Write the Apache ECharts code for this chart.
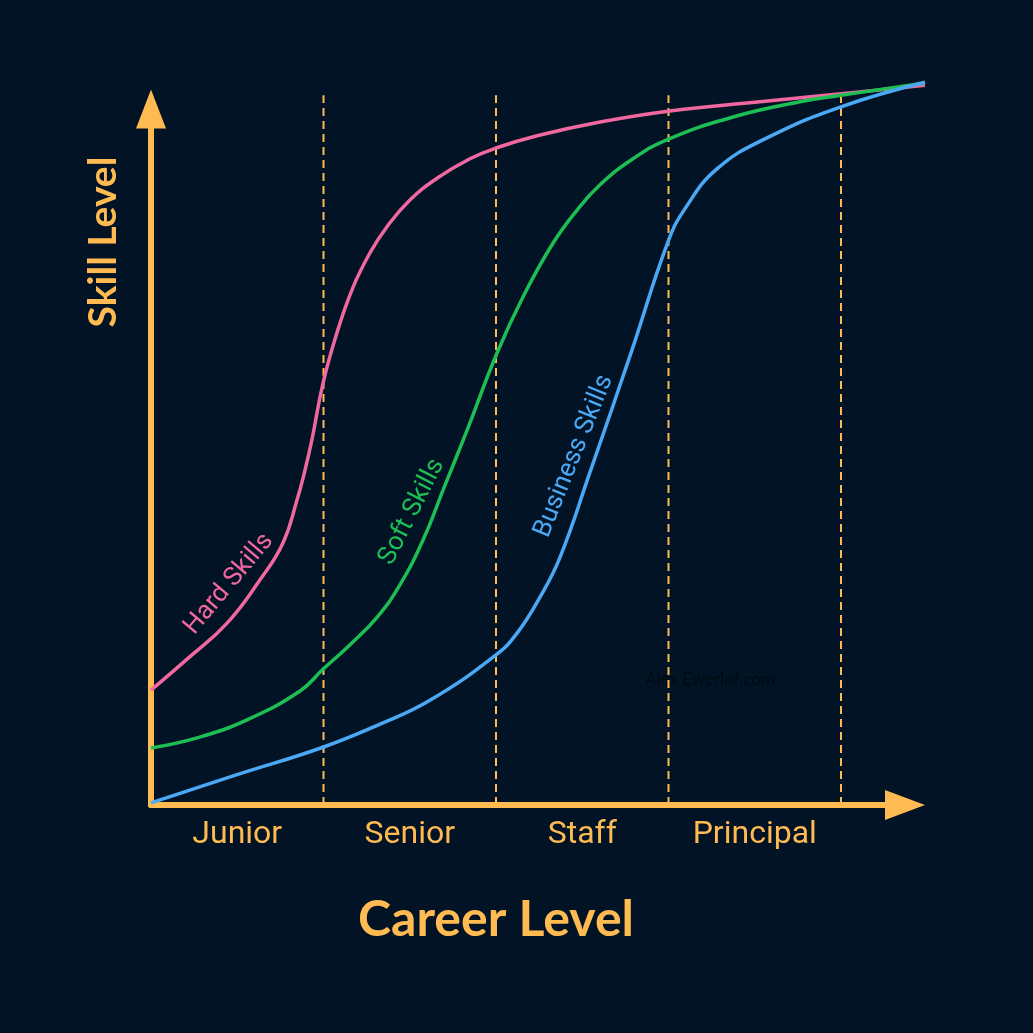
<!DOCTYPE html>
<html>
<head>
<meta charset="utf-8">
<script src="https://cdn.jsdelivr.net/npm/echarts@6/dist/echarts.min.js"></script>
<style>
  html, body { margin: 0; padding: 0; background: #011324; }
  #chart { width: 1033px; height: 1033px; }
</style>
</head>
<body>
<div id="chart"></div>
<script>
// ---- data ----
const categories = ['Junior', 'Senior', 'Staff', 'Principal'];
const boundaries = [1, 2, 3, 4];

const hardX = [0, 0.214, 0.441, 0.632, 0.765, 0.846, 0.893, 0.933, 0.997, 1.078, 1.171, 1.270, 1.368, 1.501, 1.658, 1.849, 2.0, 2.238, 2.603, 2.997, 3.530, 4.0, 4.487];
const hardY = [15.9, 20.3, 25.2, 31.2, 36.3, 42.2, 46.4, 50.6, 58.4, 65.4, 71.7, 76.5, 80.1, 83.8, 86.8, 89.5, 91.0, 92.7, 94.6, 96.1, 97.4, 98.5, 99.7];

const softX = [0, 0.267, 0.557, 0.864, 0.997, 1.154, 1.310, 1.443, 1.577, 1.693, 1.832, 2.006, 2.157, 2.330, 2.470, 2.603, 2.794, 2.997, 3.374, 3.762, 4.0, 4.487];
const softY = [7.9, 9.3, 11.8, 15.8, 18.8, 22.2, 26.0, 30.5, 36.7, 43.6, 51.9, 62.6, 70.4, 77.8, 82.4, 85.9, 89.5, 92.2, 95.3, 97.4, 98.3, 100.0];

const bizX = [0, 0.499, 0.997, 1.328, 1.617, 2.0, 2.122, 2.255, 2.371, 2.545, 2.788, 2.997, 3.096, 3.281, 3.571, 4.0, 4.487];
const bizY = [0.3, 4.2, 8.0, 11.2, 14.5, 20.8, 23.8, 28.8, 34.3, 46.1, 63.0, 78.0, 82.6, 88.1, 92.4, 96.7, 100.1];

// label anchors along curves: [x, y, angle]
const hardLabel = [0.452, 30.6, 50];
const softLabel = [1.513, 40.6, 63];
const bizLabel = [2.452, 48.3, 68];

const dashTop = 98.3;

// ---- styles ----
const ORANGE = '#FFBB52';
const PINK = '#F0689F';
const GREEN = '#1DBF55';
const BLUE = '#4BA8F5';

const zip = (xs, ys) => xs.map((x, i) => [x, ys[i]]);

function curve(name, xs, ys, color, lab) {
  return {
    name: name,
    type: 'line',
    xAxisIndex: 0,
    yAxisIndex: 0,
    data: zip(xs, ys),
    smooth: 0.45,
    symbol: 'none',
    clip: false,
    z: 5,
    lineStyle: { color: color, width: 3.5 },
    markPoint: {
      symbol: 'circle',
      symbolSize: 1,
      itemStyle: { color: 'rgba(0,0,0,0)' },
      label: {
        show: true,
        position: 'inside',
        formatter: name,
        rotate: lab[2],
        color: color,
        fontSize: 26,
        fontFamily: 'Roboto'
      },
      data: [{ coord: [lab[0], lab[1]] }]
    }
  };
}

const dashSeries = boundaries.map(b => ({
  type: 'line',
  xAxisIndex: 0,
  yAxisIndex: 0,
  data: [[b, 0], [b, dashTop]],
  symbol: 'none',
  clip: false,
  z: 2,
  lineStyle: { color: ORANGE, width: 2, type: [8, 5] }
}));

const chart = echarts.init(document.getElementById('chart'), null, { renderer: 'canvas' });
chart.setOption({
  backgroundColor: '#011324',
  animation: false,
  grid: [
    { left: 151, right: 105.75, top: 109, bottom: 228, containLabel: false },
    { left: 151, right: 128, top: 109, bottom: 228, containLabel: false }
  ],
  xAxis: [
    {
      type: 'value',
      gridIndex: 0,
      min: 0,
      max: 4.5,
      interval: 0.5,
      axisLine: { show: false },
      axisTick: { show: false },
      splitLine: { show: false },
      axisLabel: {
        show: true,
        margin: 14,
        color: ORANGE,
        fontSize: 32,
        fontFamily: 'Roboto',
        formatter: function (v) {
          const idx = Math.round(v - 0.5);
          if (Math.abs(v - 0.5 - idx) < 1e-6 && idx >= 0 && idx < categories.length) return categories[idx];
          return '';
        }
      }
    },
    {
      type: 'value',
      gridIndex: 1,
      min: 0,
      max: 1,
      axisLine: {
        show: true,
        lineStyle: { color: ORANGE, width: 6 },
        symbol: ['none', 'triangle'],
        symbolSize: [30, 40]
      },
      axisTick: { show: false },
      splitLine: { show: false },
      axisLabel: { show: false }
    }
  ],
  yAxis: [
    {
      type: 'value',
      gridIndex: 0,
      min: 0,
      max: 96.4,
      axisLine: {
        show: true,
        lineStyle: { color: ORANGE, width: 6 },
        symbol: ['none', 'triangle'],
        symbolSize: [30, 39]
      },
      axisTick: { show: false },
      splitLine: { show: false },
      axisLabel: { show: false }
    },
    {
      type: 'value',
      gridIndex: 1,
      min: 0,
      max: 1,
      show: false
    }
  ],
  graphic: [
    {
      type: 'text',
      x: 496, y: 920,
      style: {
        text: 'Career Level',
        fill: ORANGE,
        font: 'bold 50px Lato',
        align: 'center',
        verticalAlign: 'middle'
      }
    },
    {
      type: 'text',
      x: 103, y: 242,
      rotation: Math.PI / 2,
      style: {
        text: 'Skill Level',
        fill: ORANGE,
        font: 'bold 39px Lato',
        align: 'center',
        verticalAlign: 'middle'
      }
    },
    {
      type: 'text',
      x: 710, y: 680,
      z: 0,
      style: {
        text: 'Alex Ewerlof.com',
        fill: 'rgba(0,0,0,0.45)',
        font: '17px Lato',
        align: 'center',
        verticalAlign: 'middle'
      }
    }
  ],
  series: dashSeries.concat([
    curve('Hard Skills', hardX, hardY, PINK, hardLabel),
    curve('Soft Skills', softX, softY, GREEN, softLabel),
    curve('Business Skills', bizX, bizY, BLUE, bizLabel)
  ])
});
</script>
</body>
</html>
